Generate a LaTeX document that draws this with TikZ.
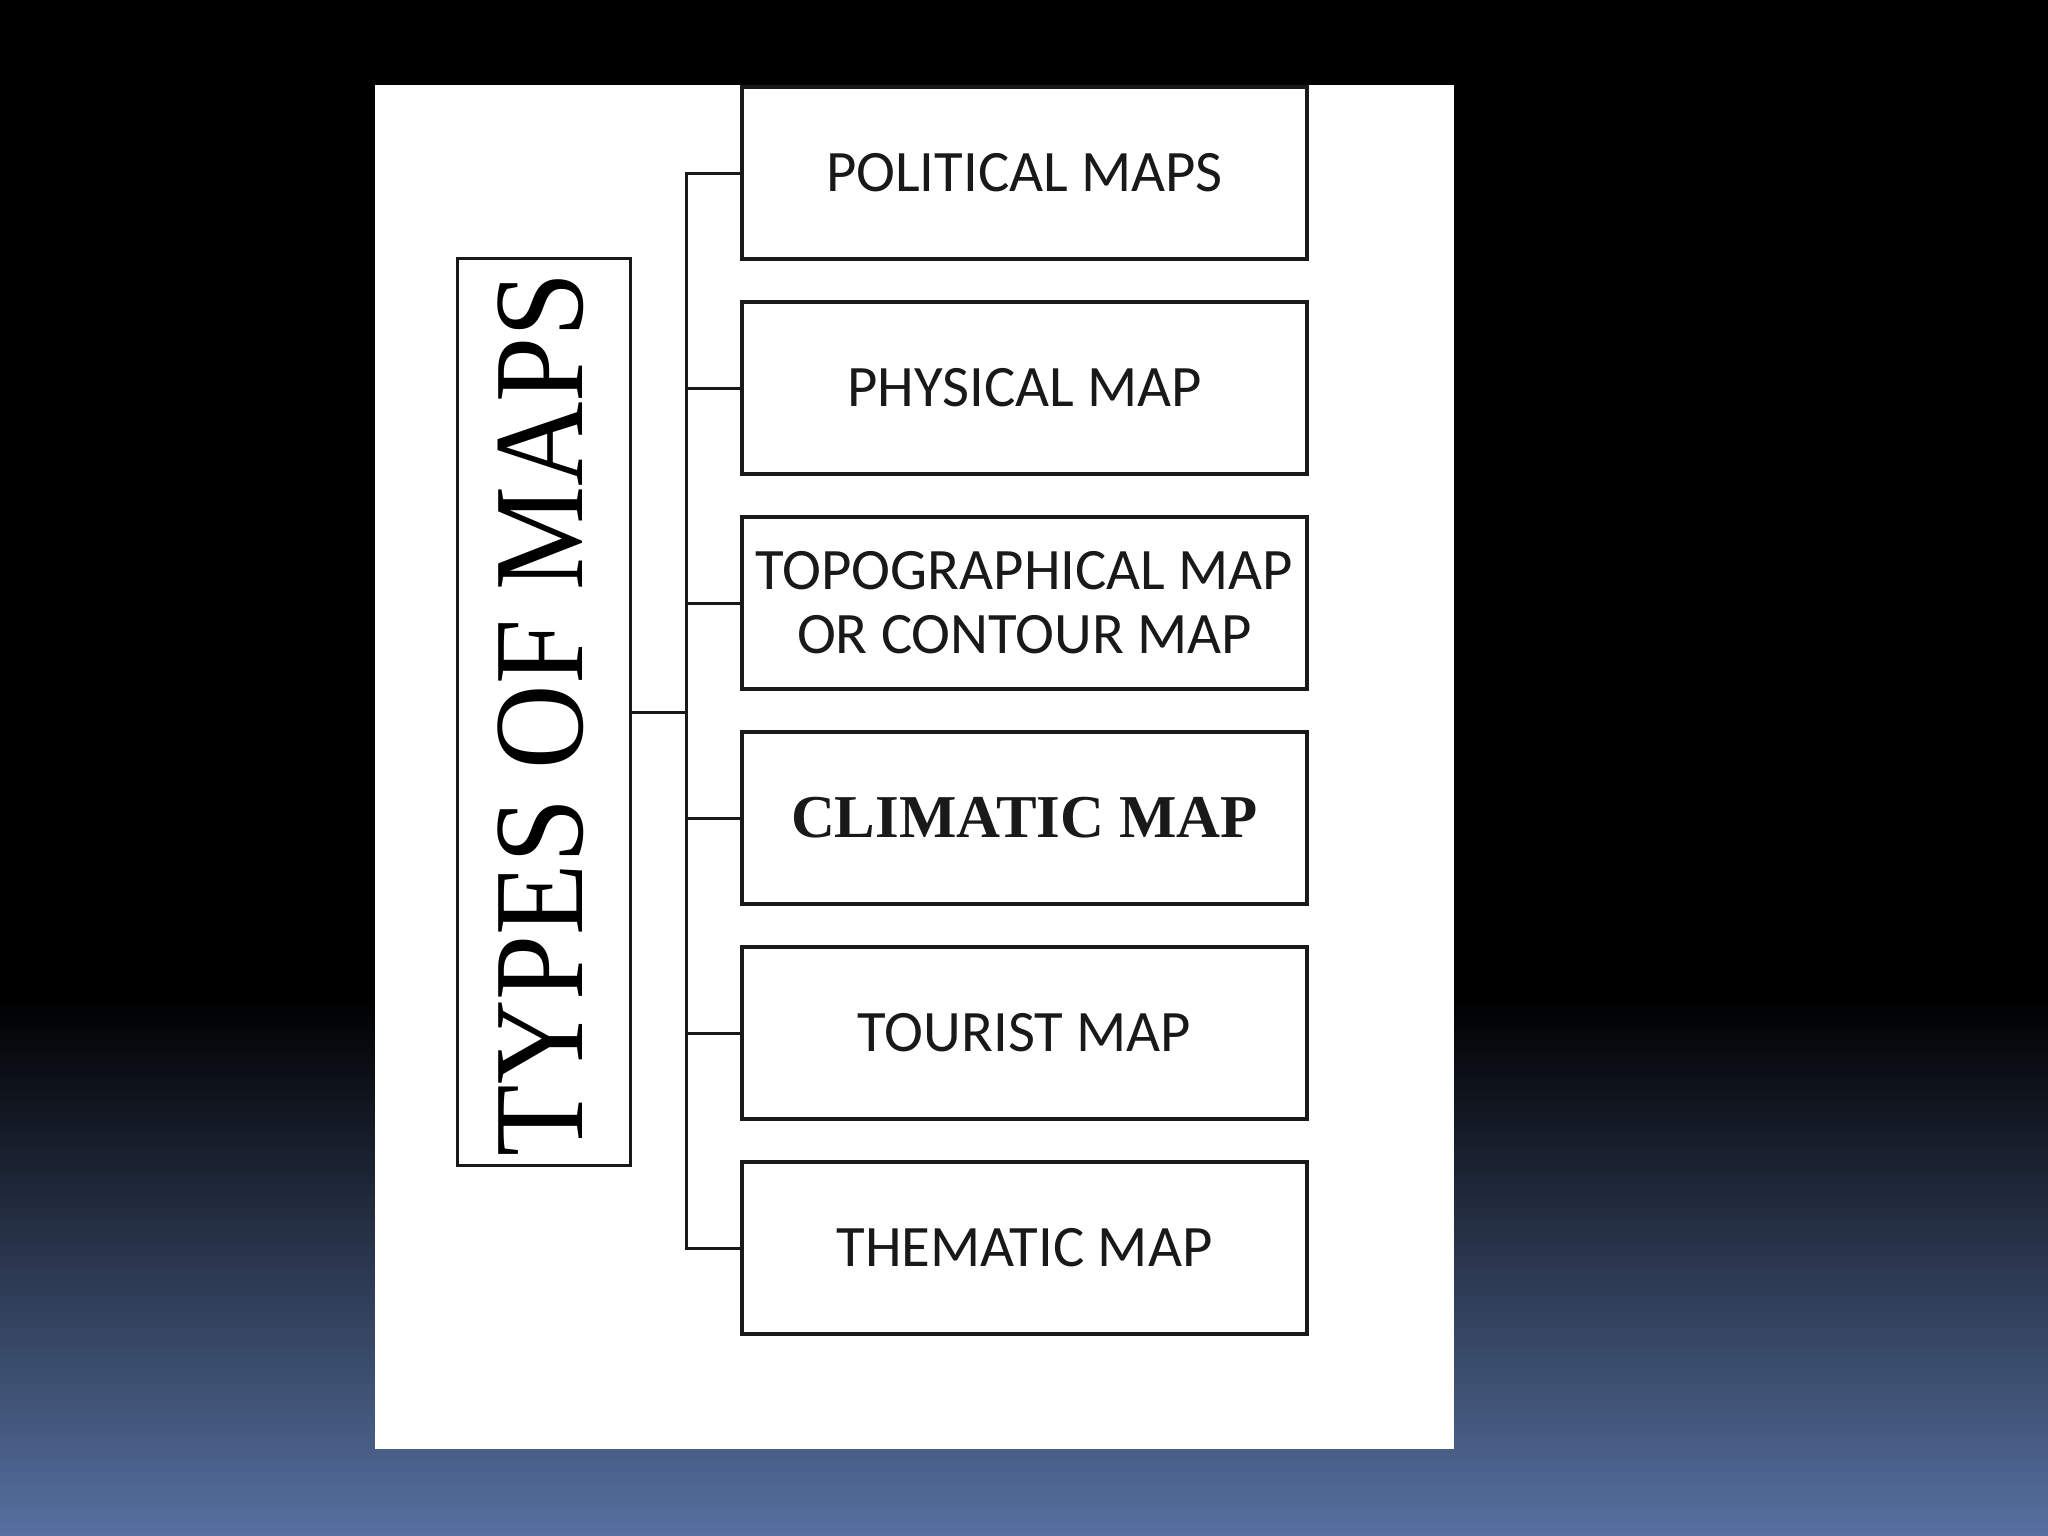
\documentclass[tikz,border=0pt]{standalone}
\usepackage{fontspec}
\newfontfamily\carlfont{Carlito}
\newfontfamily\tmsfont{Liberation Serif}
\definecolor{bgblue}{RGB}{86,112,160}
\definecolor{ink}{RGB}{25,25,25}
\tikzset{
  mapbox/.style={draw=ink, line width=0.035cm, fill=white, rectangle, inner sep=0pt,
    minimum width=5.65cm, minimum height=1.72cm, align=center,
    font=\carlfont\fontsize{16.7}{18.2}\selectfont, text=ink},
  titlebox/.style={draw=ink, line width=0.03cm, rectangle, inner sep=0pt,
    minimum width=1.72cm, minimum height=9.06cm},
  link/.style={draw=ink, line width=0.03cm}
}
\begin{document}
\begin{tikzpicture}[x=0.01cm, y=-0.01cm]
  \useasboundingbox (0,0) rectangle (2048,1536);
  \fill[black] (0,0) rectangle (2048,1000);
  \shade[top color=black, bottom color=bgblue] (0,999) rectangle (2048,1536);
  \fill[white] (375,85) rectangle (1454,1449);

  \node[titlebox] (title) at (544,712) {};
  \node[rotate=90, inner sep=0pt, text=black] (titletext) at (541,714)
    {\tmsfont\fontsize{36.4}{40}\selectfont\scalebox{0.914}[1]{TYPES OF MAPS}};

  \node[mapbox] (b1) at (1024.5,173) {POLITICAL MAPS};
  \node[mapbox] (b2) at (1024.5,388) {PHYSICAL MAP};
  \node[mapbox] (b3) at (1024.5,603) {TOPOGRAPHICAL MAP\\OR CONTOUR MAP};
  \node[mapbox, font=\tmsfont\bfseries\fontsize{17.3}{19}\selectfont] (b4) at (1024.5,818) {CLIMATIC MAP};
  \node[mapbox] (b5) at (1024.5,1033) {TOURIST MAP};
  \node[mapbox] (b6) at (1024.5,1248) {THEMATIC MAP};

  \coordinate (tr) at (686,712);
  \draw[link] (title.east) -- (tr);
  \foreach \b in {b1,b2,b3,b4,b5,b6} {
    \draw[link] (\b.west) -| (tr);
  }
\end{tikzpicture}
\end{document}
